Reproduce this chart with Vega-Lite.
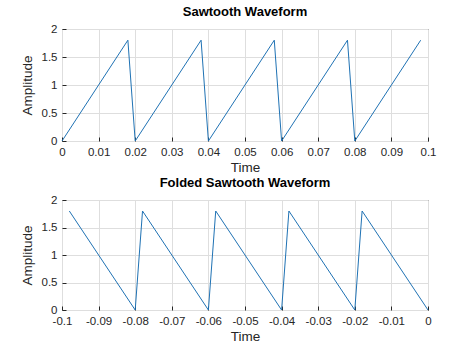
{
  "$schema": "https://vega.github.io/schema/vega-lite/v6.json",
  "background": "white",
  "padding": {"left": 19, "top": 5, "right": 5, "bottom": 5},
  "spacing": 1,
  "datasets": {
    "saw": [
      {"t": 0, "a": 0}, {"t": 0.018, "a": 1.8}, {"t": 0.02, "a": 0},
      {"t": 0.038, "a": 1.8}, {"t": 0.04, "a": 0},
      {"t": 0.058, "a": 1.8}, {"t": 0.06, "a": 0},
      {"t": 0.078, "a": 1.8}, {"t": 0.08, "a": 0},
      {"t": 0.098, "a": 1.8}
    ],
    "folded": [
      {"t": -0.098, "a": 1.8}, {"t": -0.08, "a": 0},
      {"t": -0.078, "a": 1.8}, {"t": -0.06, "a": 0},
      {"t": -0.058, "a": 1.8}, {"t": -0.04, "a": 0},
      {"t": -0.038, "a": 1.8}, {"t": -0.02, "a": 0},
      {"t": -0.018, "a": 1.8}, {"t": 0, "a": 0}
    ]
  },
  "vconcat": [
    {
      "title": "Sawtooth Waveform",
      "width": 366,
      "height": 112,
      "data": {"name": "saw"},
      "mark": {"type": "line", "color": "#1f72b4", "strokeWidth": 1},
      "encoding": {
        "x": {"field": "t", "type": "quantitative", "title": "Time",
          "scale": {"domain": [0, 0.1], "nice": false},
          "axis": {"values": [0, 0.01, 0.02, 0.03, 0.04, 0.05, 0.06, 0.07, 0.08, 0.09, 0.1]}},
        "y": {"field": "a", "type": "quantitative", "title": "Amplitude",
          "scale": {"domain": [0, 2], "nice": false},
          "axis": {"values": [0, 0.5, 1, 1.5, 2]}}
      }
    },
    {
      "title": "Folded Sawtooth Waveform",
      "width": 366,
      "height": 110,
      "data": {"name": "folded"},
      "mark": {"type": "line", "color": "#1f72b4", "strokeWidth": 1},
      "encoding": {
        "x": {"field": "t", "type": "quantitative", "title": "Time",
          "scale": {"domain": [-0.1, 0], "nice": false},
          "axis": {"values": [-0.1, -0.09, -0.08, -0.07, -0.06, -0.05, -0.04, -0.03, -0.02, -0.01, 0]}},
        "y": {"field": "a", "type": "quantitative", "title": "Amplitude",
          "scale": {"domain": [0, 2], "nice": false},
          "axis": {"values": [0, 0.5, 1, 1.5, 2]}}
      }
    }
  ],
  "config": {
    "font": "Liberation Sans",
    "view": {"stroke": "#262626", "strokeWidth": 1},
    "title": {"fontSize": 13, "fontWeight": "bold", "color": "#000000", "offset": 4, "font": "Liberation Sans"},
    "axis": {
      "labelExpr": "replace(format(datum.value, '~g'), '\u2212', '-')",
      "labelFontSize": 11.5,
      "labelColor": "#262626",
      "titleFontSize": 13.5,
      "titleFontWeight": "normal",
      "titleColor": "#262626",
      "domain": false,
      "ticks": true,
      "tickSize": -4,
      "tickColor": "#262626",
      "gridColor": "#dedede",
      "gridWidth": 1,
      "labelFlush": false,
      "labelOverlap": false
    },
    "axisX": {"titlePadding": 3, "labelPadding": 9},
    "axisY": {"titlePadding": 7, "labelPadding": 9}
  }
}
